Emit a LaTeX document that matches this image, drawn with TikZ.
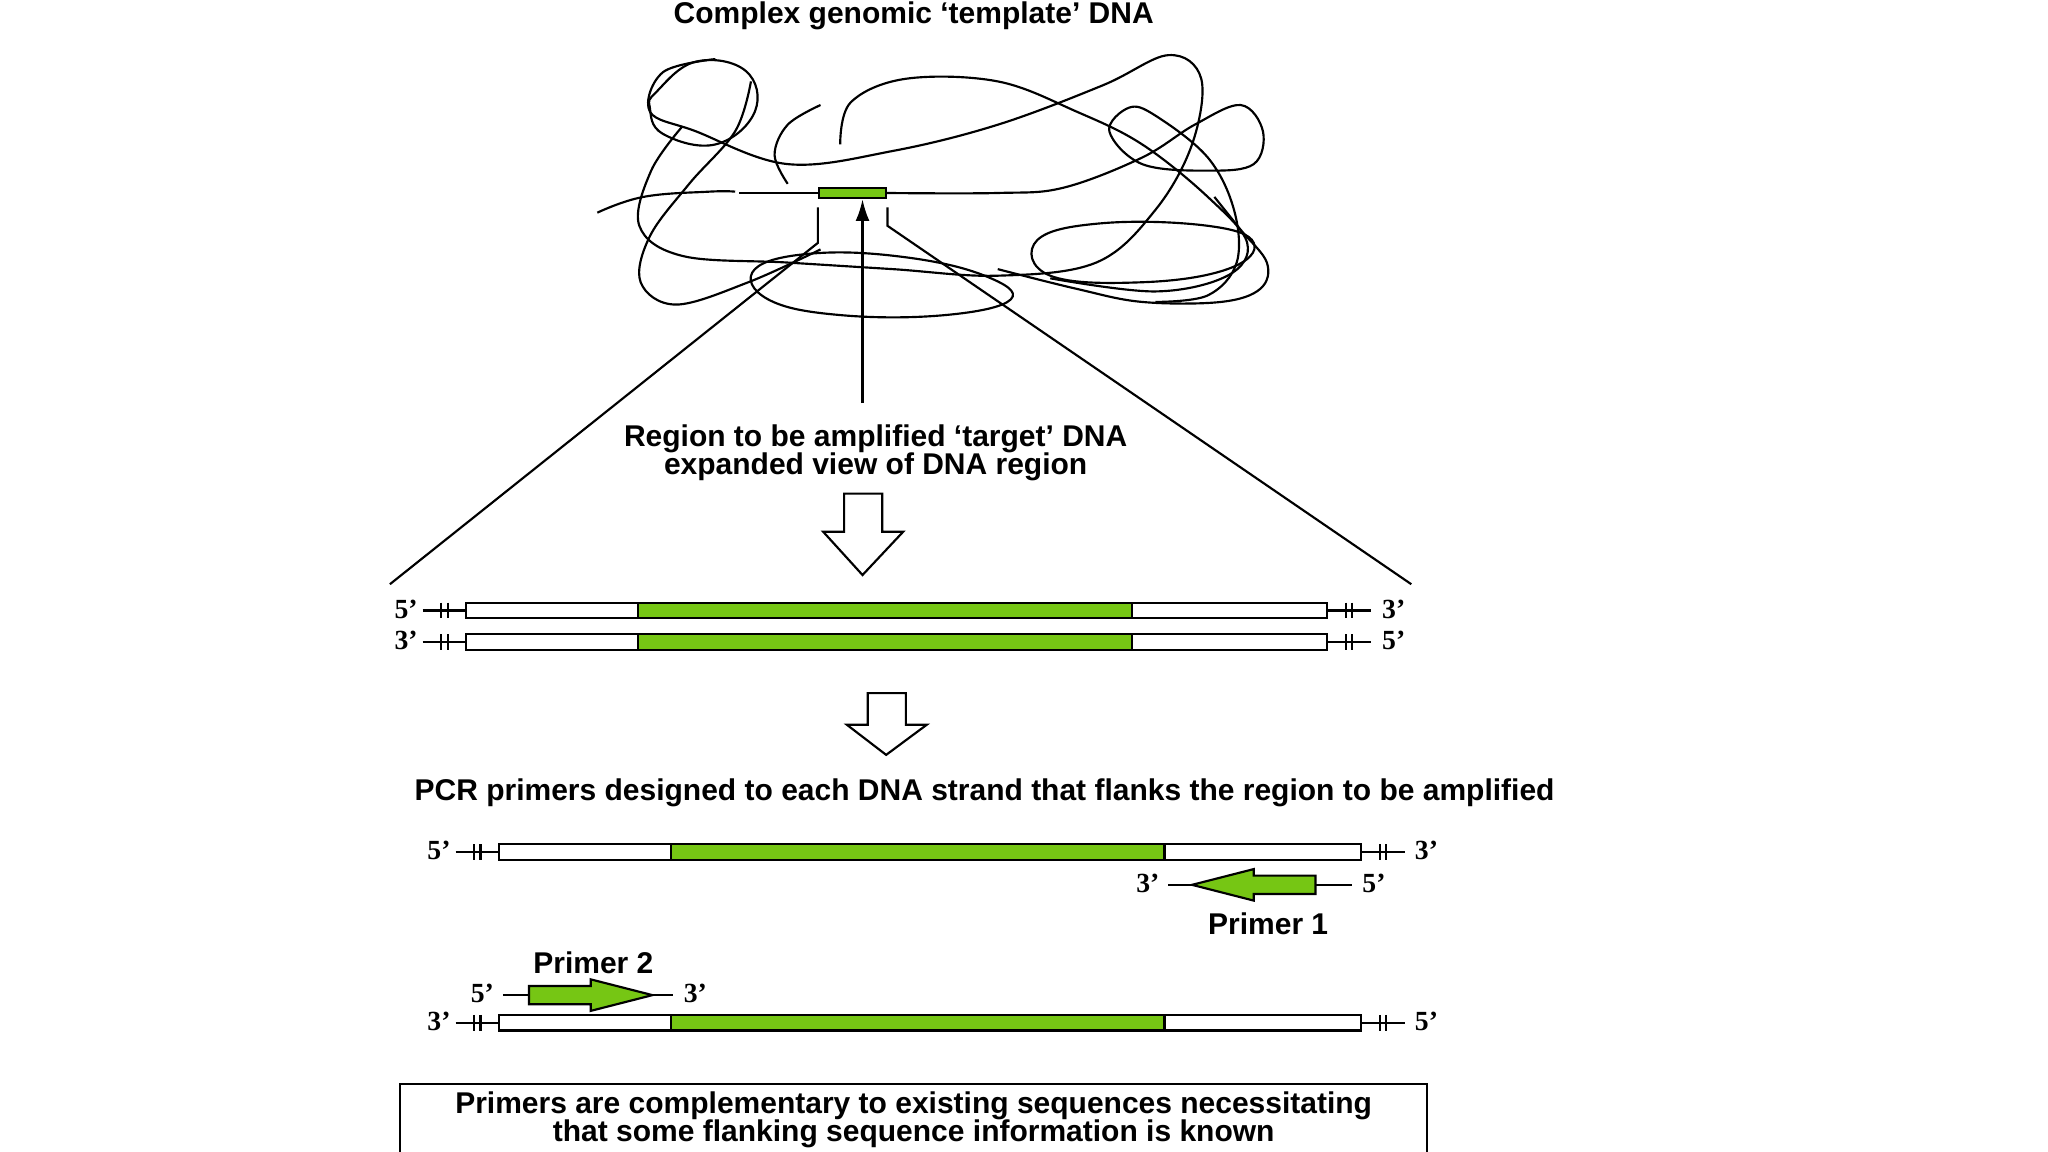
\documentclass[tikz,border=0pt]{standalone}
\usepackage{fontspec}
\setmainfont{Liberation Sans}
\newfontfamily\serifl{Liberation Serif}
\usetikzlibrary{arrows.meta}
\begin{document}
\begin{tikzpicture}[x=0.03cm,y=-0.03cm,line width=1.4pt,
  lbl/.style={font=\fontsize{19.5}{18.5}\selectfont\bfseries,inner sep=0pt,align=center},
  end/.style={font=\fontsize{18}{20}\selectfont\serifl\bfseries,inner sep=0pt},
  gfill/.style={fill=dnagreen,draw=black,line width=1.4pt},
  hollow/.style={draw=black,fill=white,line width=1.4pt,line join=miter}]
\definecolor{dnagreen}{RGB}{118,198,20}
\useasboundingbox (0,0) rectangle (1560,877);

% title
\node[lbl] (title) at (696,12) {Complex genomic ‘template’ DNA};

% tangled genomic DNA
\draw plot[smooth cycle,tension=0.7] coordinates {(500,70) (530,47) (568,54) (575,85) (545,110) (505,102) (495,82)};
\draw plot[smooth,tension=0.6] coordinates {(572,62) (560,100) (525,140) (495,180) (488,215) (515,232) (570,215) (625,190)};
\draw plot[smooth,tension=0.6] coordinates {(545,45) (505,55) (495,85) (530,100) (600,125) (680,115) (760,95) (840,65) (890,42) (915,60) (908,110) (880,160) (835,200) (760,210) (680,205) (600,200) (520,195) (487,172) (496,130) (520,96)};
\draw plot[smooth,tension=0.6] coordinates {(640,110) (648,78) (690,60) (760,62) (820,85) (870,110) (920,150) (950,185) (935,210) (880,222) (800,212)};
\draw plot[smooth,tension=0.7] coordinates {(455,162) (490,150) (540,146) (560,146)};
\draw (563,147) -- (624,147);
\draw plot[smooth,tension=0.6] coordinates {(675,147) (760,147) (810,143) (870,120) (910,95) (945,80) (962,100) (955,125) (920,130) (870,125) (845,100) (860,82) (880,88) (920,120) (940,160) (942,200) (920,225) (880,230)};
\draw plot[smooth cycle,tension=0.7] coordinates {(790,183) (840,170) (920,172) (955,185) (935,205) (870,215) (800,210)};
\draw plot[smooth cycle,tension=0.7] coordinates {(575,205) (620,193) (690,196) (750,210) (770,228) (720,240) (640,240) (585,228)};
\draw plot[smooth,tension=0.6] coordinates {(600,140) (590,118) (600,95) (625,80)};
\draw plot[smooth,tension=0.6] coordinates {(925,150) (945,175) (965,200) (960,220) (930,230) (870,230) (820,220) (760,205)};

% target region
\node[gfill,minimum width=51*0.03cm,minimum height=8*0.03cm,inner sep=0pt] (tgt) at (649.5,147) {};
\coordinate (lt) at (623,185);
\coordinate (rt) at (676,172);
\coordinate (lfar) at (297,445);
\coordinate (rfar) at (1075,445);
\draw (623,158) -- (lt) -- (lfar);
\draw (676,158) -- (rt) -- (rfar);
\coordinate (arrbase) at (657,307);
\draw[-{Latex[length=14pt,width=9pt]}] (arrbase) -- (tgt.south -| arrbase);

\node[lbl] (reg) at (667,345) {Region to be amplified ‘target’ DNA\\expanded view of DNA region};

% hollow arrows
\draw[hollow] (643,376) -- (672,376) -- (672,405) -- (688,405) -- (657,438) -- (627,405) -- (643,405) -- cycle;
\draw[hollow] (661,528) -- (690,528) -- (690,552) -- (706,552) -- (675,575) -- (645,552) -- (661,552) -- cycle;

% strand macro
\newcommand{\strand}[6]{% x0 xg1 xg2 x1 y, labels
  \draw (#1-33,#5) -- (#1,#5);
  \draw (#1-19,#5-6) -- (#1-19,#5+6) (#1-14,#5-6) -- (#1-14,#5+6);
  \draw (#4,#5) -- (#4+33,#5);
  \draw (#4+14,#5-6) -- (#4+14,#5+6) (#4+19,#5-6) -- (#4+19,#5+6);
  \draw[fill=white] (#1,#5-6) rectangle (#4,#5+6);
  \draw[gfill] (#2,#5-6) rectangle (#3,#5+6);
  \node[end,anchor=east] at (#1-36,#5-1) {#6};
}
\strand{355}{486}{862}{1011}{465}{5’}
\node[end,anchor=west] (a3) at (1052,464) {3’};
\strand{355}{486}{862}{1011}{489}{3’}
\node[end,anchor=west] (a5) at (1052,488) {5’};

\node[lbl] (pcr) at (750,604) {PCR primers designed to each DNA strand that flanks the region to be amplified};

\strand{380}{511}{887}{1037}{649}{5’}
\node[end,anchor=west] (b3) at (1077,648) {3’};
\strand{380}{511}{887}{1037}{779}{3’}
\node[end,anchor=west] (b5) at (1077,778) {5’};

% primer 1
\draw (890,674) -- (1030,674);
\draw[gfill,line join=miter] (908,674) -- (955,662) -- (955,667) -- (1002,667) -- (1002,681) -- (955,681) -- (955,686) -- cycle;
\node[end,anchor=east] (p1l) at (884,673) {3’};
\node[end,anchor=west] (p1r) at (1037,673) {5’};
\node[lbl] (p1) at (966,704) {Primer 1};

% primer 2
\draw (383,758) -- (513,758);
\draw[gfill,line join=miter] (497,758) -- (450,746) -- (450,751) -- (403,751) -- (403,765) -- (450,765) -- (450,770) -- cycle;
\node[end,anchor=east] (p2l) at (377,757) {5’};
\node[end,anchor=west] (p2r) at (520,757) {3’};
\node[lbl] (p2) at (452,733) {Primer 2};

% note box
\node[draw,line width=1.4pt,minimum width=782*0.03cm,minimum height=54*0.03cm,lbl] (note) at (696,853) {Primers are complementary to existing sequences necessitating\\that some flanking sequence information is known};
\end{tikzpicture}
\end{document}
